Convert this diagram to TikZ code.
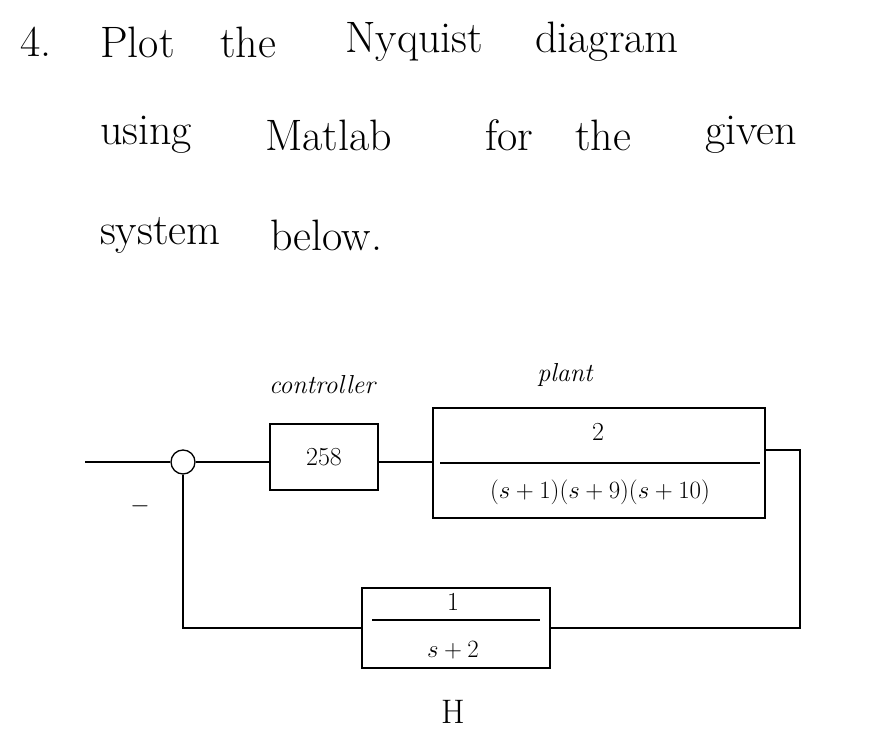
\documentclass[tikz,border=0pt]{standalone}
\begin{document}
\begin{tikzpicture}[x=1pt,y=-1pt,
  txt/.style={inner sep=0pt,anchor=west,font=\fontsize{44}{50}\selectfont},
  lbl/.style={inner sep=0pt,font=\fontsize{26}{30}\selectfont},
  blk/.style={draw,line width=1.3pt,inner sep=0pt},
  wire/.style={line width=1.3pt}]
\useasboundingbox (0,0) rectangle (895,736);
\node[txt] (w1) at (20,42) {4.};
\node[txt] (w2) at (100,42) {Plot};
\node[txt] (w3) at (220,42) {the};
\node[txt] (w4) at (345,42) {Nyquist};
\node[txt] (w5) at (535,42) {diagram};
\node[txt] (w6) at (100,135) {using};
\node[txt] (w7) at (265,135) {Matlab};
\node[txt] (w8) at (485,135) {for};
\node[txt] (w9) at (575,135) {the};
\node[txt] (w10) at (705,135) {given};
\node[txt] (w11) at (100,235) {system};
\node[txt] (w12) at (270,235) {below.};
\node[lbl] (cl) at (322,385) {\itshape controller};
\node[lbl] (pl) at (565,375) {\itshape plant};
\coordinate (in) at (85,462);
\node[draw,circle,line width=1.3pt,minimum size=24pt,inner sep=0pt] (sum) at (183,462) {};
\node[blk,minimum width=108pt,minimum height=66pt] (c) at (324,457) {\fontsize{26}{30}\selectfont 258};
\node[blk,minimum width=332pt,minimum height=110pt] (p) at (599,463) {};
\node[lbl] (pn) at (598,432) {2};
\draw[wire] (440,463) -- (760,463);
\node[lbl] (pd) at (600,492) {$(s+1)(s+9)(s+10)$};
\node[blk,minimum width=188pt,minimum height=80pt] (h) at (456,628) {};
\node[lbl] (hn) at (453,602) {1};
\draw[wire] (372,620) -- (540,620);
\node[lbl] (hd) at (453,650) {$s+2$};
\node[inner sep=0pt,font=\fontsize{34}{40}\selectfont] (hl) at (453,712) {H};
\node[lbl] (minus) at (140,506) {$-$};
\coordinate (r1) at (800,450);
\coordinate (r2) at (800,628);
\draw[wire] (in) -- (sum.west);
\draw[wire] (sum.east) -- (c.west |- sum.east);
\draw[wire] (c.east |- sum.east) -- (p.west |- sum.east);
\draw[wire] (p.east |- r1) -- (r1) -- (r2) -- (h.east |- r2);
\draw[wire] (h.west |- r2) -| (sum.south);
\end{tikzpicture}
\end{document}
